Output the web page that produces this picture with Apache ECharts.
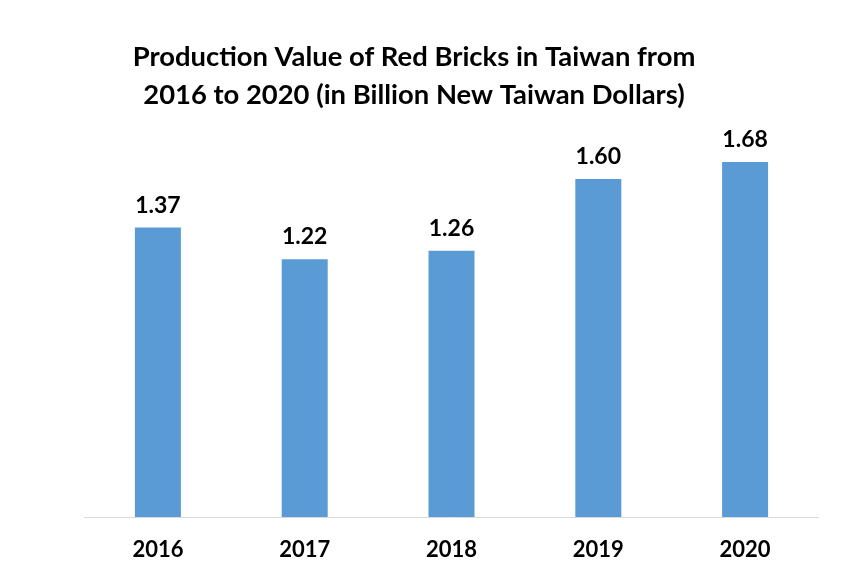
<!DOCTYPE html>
<html><head><meta charset="utf-8">
<script src="https://cdn.jsdelivr.net/npm/echarts@6/dist/echarts.min.js"></script>
<style>html,body{margin:0;padding:0;background:#fff}#c{width:844px;height:568px}</style>
</head><body><div id="c"></div>
<script>
const categories = ['2016', '2017', '2018', '2019', '2020'];
const values = [1.37, 1.22, 1.26, 1.60, 1.68];
const titleText = 'Production Value of Red Bricks in Taiwan from\n2016 to 2020 (in Billion New Taiwan Dollars)';

const chart = echarts.init(document.getElementById('c'));
chart.setOption({
  animation: false,
  backgroundColor: '#ffffff',
  title: {
    text: titleText,
    left: 409, top: 33, textAlign: 'center',
    textStyle: { fontFamily: 'Lato', fontWeight: 'bold', fontSize: 27.4, lineHeight: 38, color: '#000' }
  },
  grid: { left: 84.5, right: 25.5, top: 94.5, bottom: 51 },
  xAxis: {
    type: 'category', data: categories,
    axisLine: { lineStyle: { color: '#d9d9d9', width: 1 } },
    axisTick: { show: false },
    axisLabel: { margin: 22, fontFamily: 'Lato', fontWeight: 'bold', fontSize: 22, color: '#000' }
  },
  yAxis: { type: 'value', min: 0, max: 2, show: false, splitLine: { show: false } },
  series: [{
    type: 'bar', data: values, barWidth: 46,
    itemStyle: { color: '#5b9bd5' },
    label: { show: true, position: 'top', distance: 11, formatter: p => p.value.toFixed(2),
      fontFamily: 'Lato', fontWeight: 'bold', fontSize: 23, color: '#000' }
  }]
});
</script></body></html>
